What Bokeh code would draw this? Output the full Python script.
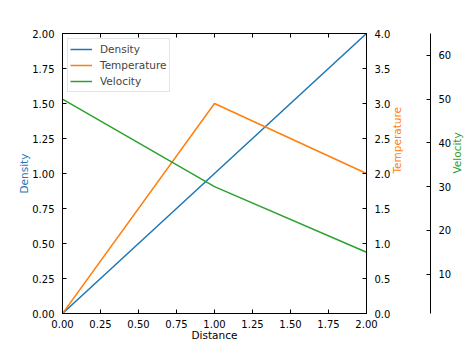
import math
from bokeh.plotting import figure
from bokeh.models import (LinearAxis, Range1d, SingleIntervalTicker, FixedTicker,
                          NumeralTickFormatter, CustomJSTickFormatter, Legend, LegendItem)
from bokeh.embed import file_html
from bokeh.resources import INLINE

distance = [0, 1, 2]
density = [0, 1, 2]
temperature = [0, 3, 2]
velocity = [50, 30, 15]

C_DEN = "#1f77b4"
C_TMP = "#ff7f0e"
C_VEL = "#2ca02c"
FONT = "DejaVu Sans"
FS = "10px"

p = figure(width=474, height=353, output_backend="svg", toolbar_location=None,
           x_range=Range1d(0, 2), y_range=Range1d(0, 2),
           min_border_left=62, min_border_right=108, min_border_top=33, min_border_bottom=40,
           x_axis_location=None, y_axis_location=None)
p.extra_y_ranges = {"temp": Range1d(0, 4), "vel": Range1d(1, 65)}
p.grid.visible = False
p.outline_line_color = "black"
p.background_fill_color = "white"
p.border_fill_color = "white"


def style(ax, color=None):
    ax.major_tick_in = 4
    ax.major_tick_out = 0
    ax.minor_tick_line_color = None
    ax.major_label_text_font = FONT
    ax.major_label_text_font_size = FS
    ax.major_label_text_color = "black"
    ax.axis_label_text_font = FONT
    ax.axis_label_text_font_size = "10.5px"
    ax.axis_label_text_font_style = "normal"
    ax.axis_label_text_color = color or "black"
    ax.axis_line_color = "black"
    ax.major_tick_line_color = "black"


xb = LinearAxis(ticker=SingleIntervalTicker(interval=0.25),
                formatter=NumeralTickFormatter(format="0.00"), axis_label="Distance")
style(xb)
xb.major_label_standoff = 2
xb.axis_label_standoff = -2
p.add_layout(xb, "below")

xt = LinearAxis(ticker=SingleIntervalTicker(interval=0.25),
                formatter=CustomJSTickFormatter(code="return ''"))
style(xt)
p.add_layout(xt, "above")

yl = LinearAxis(ticker=SingleIntervalTicker(interval=0.25),
                formatter=NumeralTickFormatter(format="0.00"), axis_label="Density")
style(yl, C_DEN)
yl.major_label_standoff = 4
yl.axis_label_standoff = -1
p.add_layout(yl, "left")

yt = LinearAxis(y_range_name="temp", ticker=SingleIntervalTicker(interval=0.5),
                formatter=NumeralTickFormatter(format="0.0"), axis_label="Temperature")
style(yt, C_TMP)
yt.major_label_standoff = 4
yt.axis_label_standoff = 4
yt.axis_label_orientation = math.pi / 2
p.add_layout(yt, "right")

# spacer: one practically transparent outward tick whose length offsets the velocity axis
spacer = LinearAxis(y_range_name="vel", ticker=FixedTicker(ticks=[2]),
                    formatter=CustomJSTickFormatter(code="return ''"))
spacer.axis_line_color = None
spacer.major_tick_line_color = "white"
spacer.major_tick_line_alpha = 0.01
spacer.minor_tick_line_color = None
spacer.major_tick_in = 0
spacer.major_tick_out = 18
spacer.major_label_standoff = 0
p.add_layout(spacer, "right")

yv = LinearAxis(y_range_name="vel", ticker=SingleIntervalTicker(interval=10),
                axis_label="Velocity")
style(yv, C_VEL)
yv.major_label_standoff = 4
yv.axis_label_standoff = 3
yv.axis_label_orientation = math.pi / 2
p.add_layout(yv, "right")

r1 = p.line(distance, density, color=C_DEN, line_width=1.5)
r2 = p.line(distance, temperature, color=C_TMP, line_width=1.5, y_range_name="temp")
r3 = p.line(distance, velocity, color=C_VEL, line_width=1.5, y_range_name="vel")

legend = Legend(items=[LegendItem(label="Density", renderers=[r1]),
                       LegendItem(label="Temperature", renderers=[r2]),
                       LegendItem(label="Velocity", renderers=[r3])],
                location="top_left")
legend.label_text_font = FONT
legend.label_text_font_size = "10.5px"
legend.label_height = 16
legend.glyph_height = 16
legend.glyph_width = 22
legend.spacing = 0
legend.padding = 2
legend.margin = 5
legend.label_standoff = 8
legend.border_line_color = "#cccccc"
legend.background_fill_alpha = 1
p.add_layout(legend)

open("out.html", "w").write(file_html(p, INLINE))
